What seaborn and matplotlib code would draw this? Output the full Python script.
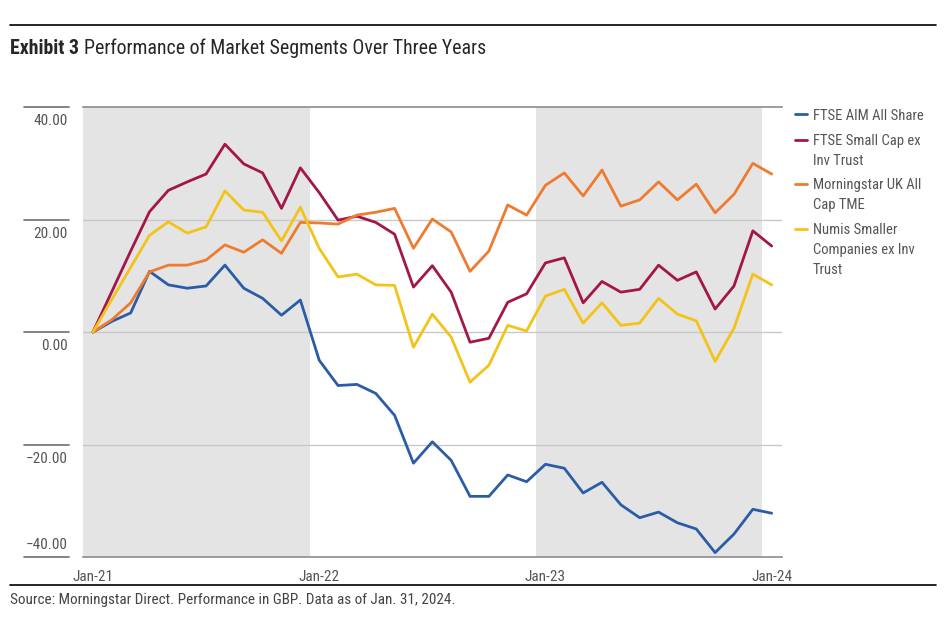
import pandas as pd
import numpy as np
import seaborn as sns
import matplotlib.pyplot as plt
import warnings
warnings.filterwarnings('ignore')

# monthly cumulative performance, Jan-21 .. Jan-24
months = pd.date_range('2021-01-31', periods=37, freq='ME').strftime('%b-%y').tolist()

aim_all_share = [0.0, 1.9, 3.4, 10.8, 8.4, 7.8, 8.2, 11.9, 7.8, 6.0, 3.0, 5.7,
                 -5.0, -9.5, -9.3, -10.9, -14.8, -23.3, -19.5, -22.8, -29.2, -29.2,
                 -25.4, -26.6, -23.5, -24.2, -28.6, -26.7, -30.7, -33.0, -32.0, -33.9,
                 -35.0, -39.2, -35.9, -31.5, -32.2]
small_cap = [0.0, 7.2, 14.4, 21.4, 25.2, 26.7, 28.1, 33.4, 29.9, 28.3, 22.0, 29.2,
             24.8, 19.9, 20.6, 19.5, 17.4, 8.0, 11.8, 7.1, -1.8, -1.1,
             5.3, 6.8, 12.3, 13.2, 5.2, 9.0, 7.1, 7.6, 11.9, 9.2,
             10.7, 4.1, 8.2, 18.0, 15.3]
uk_all_cap = [0.0, 2.2, 5.2, 10.7, 11.9, 11.9, 12.8, 15.5, 14.2, 16.4, 14.0, 19.5,
              19.4, 19.2, 20.8, 21.3, 22.0, 14.9, 20.1, 17.8, 10.8, 14.4,
              22.6, 20.8, 26.1, 28.3, 24.2, 28.8, 22.4, 23.5, 26.7, 23.5,
              26.3, 21.2, 24.5, 30.0, 28.1]
numis_smaller = [0.0, 5.8, 11.5, 17.2, 19.6, 17.6, 18.7, 25.1, 21.7, 21.3, 16.2, 22.2,
                 14.9, 9.8, 10.3, 8.4, 8.3, -2.7, 3.2, -0.9, -8.9, -5.9,
                 1.2, 0.2, 6.4, 7.6, 1.6, 5.2, 1.2, 1.6, 6.0, 3.2,
                 2.0, -5.2, 0.7, 10.3, 8.4]

series_names = ['FTSE AIM All Share', 'FTSE Small Cap ex Inv Trust',
                'Morningstar UK All Cap TME', 'Numis Smaller Companies ex Inv Trust']
legend_labels = ['FTSE AIM All Share', 'FTSE Small Cap ex\nInv Trust',
                 'Morningstar UK All\nCap TME', 'Numis Smaller\nCompanies ex Inv\nTrust']
colors = ['#2b5ca8', '#a3164a', '#ee7b30', '#f3c318']

yticks = [40, 20, 0, -20, -40]
xtick_labels = ['Jan-21', 'Jan-22', 'Jan-23', 'Jan-24']

df = pd.DataFrame({
    'month': months * 4,
    'idx': list(range(len(months))) * 4,
    'series': np.repeat(series_names, len(months)),
    'value': aim_all_share + small_cap + uk_all_cap + numis_smaller,
})

sns.set_style('white')
plt.rcParams['font.family'] = ['Roboto Condensed', 'Liberation Sans', 'DejaVu Sans']

fig = plt.figure(figsize=(9.46, 6.19), dpi=100)
ax = fig.add_axes([0.0877, 0.100, 0.739, 0.727])

# shaded years
ax.axvspan(-0.53, 11.5, color='#e4e4e4', lw=0, zorder=0)
ax.axvspan(23.5, 35.5, color='#e4e4e4', lw=0, zorder=0)

for y in [20, 0, -20]:
    ax.axhline(y, color='#c8c8c8', lw=1, zorder=1)

sns.lineplot(data=df, x='idx', y='value', hue='series', hue_order=series_names,
             palette=dict(zip(series_names, colors)), lw=2, legend=False, ax=ax, zorder=3)

ax.set_xlim(-0.53, 36.55)
ax.set_ylim(-40, 40)
for s in ['left', 'right']:
    ax.spines[s].set_visible(False)
ax.spines['top'].set_color('#8c8c8c')
ax.spines['bottom'].set_color('#8c8c8c')
ax.spines['top'].set_linewidth(1.2)
ax.spines['bottom'].set_linewidth(1.2)

ax.set_xticks([months.index(m) for m in xtick_labels])
ax.set_xticklabels(xtick_labels, fontsize=11, color='#555555')
ax.tick_params(axis='x', length=0, pad=9)
ax.set_yticks([])
ax.set_xlabel('')
ax.set_ylabel('')

# y labels hanging under short rules on the left (last one sits above)
trans = ax.get_yaxis_transform()
for y in yticks:
    ax.plot([-0.0845, -0.02], [y, y], transform=trans, color='#6e6e6e', lw=1.2, clip_on=False)
    below = y != yticks[-1]
    ax.annotate(f'{y:.2f}'.replace('-', '\u2212'), xy=(-0.022, y), xycoords=trans,
                xytext=(0, -5 if below else 4), textcoords='offset points', ha='right',
                va='top' if below else 'bottom', fontsize=11, color='#555555')

# legend, handle level with the first line of each label
ly = [0.984, 0.927, 0.829, 0.729]
for lab, col, yy in zip(legend_labels, colors, ly):
    ax.plot([1.018, 1.035], [yy, yy], transform=ax.transAxes, color=col, lw=2, clip_on=False)
    for i, line in enumerate(lab.split('\n')):
        ax.annotate(line, xy=(1.044, yy), xycoords='axes fraction', xytext=(0, -3.9 - i * 14.4),
                    textcoords='offset points', ha='left', va='baseline',
                    fontsize=10.5, color='#555555')

# title, rules and source
fig.add_artist(plt.Line2D([0.011, 0.989], [0.96, 0.96], color='black', lw=1.2))
fig.add_artist(plt.Line2D([0.011, 0.989], [0.055, 0.055], color='black', lw=1.2))
t1 = fig.text(0.011, 0.922, 'Exhibit 3', fontsize=14.3, fontweight='bold', va='center')
fig.canvas.draw()
bb = t1.get_window_extent().transformed(fig.transFigure.inverted())
fig.text(bb.x1 + 0.005, 0.922, 'Performance of Market Segments Over Three Years',
         fontsize=14.3, va='center')
fig.text(0.011, 0.030, 'Source: Morningstar Direct. Performance in GBP. Data as of Jan. 31, 2024.',
         fontsize=10.9, color='#444444', va='center')

plt.savefig('out.png', dpi=100)
